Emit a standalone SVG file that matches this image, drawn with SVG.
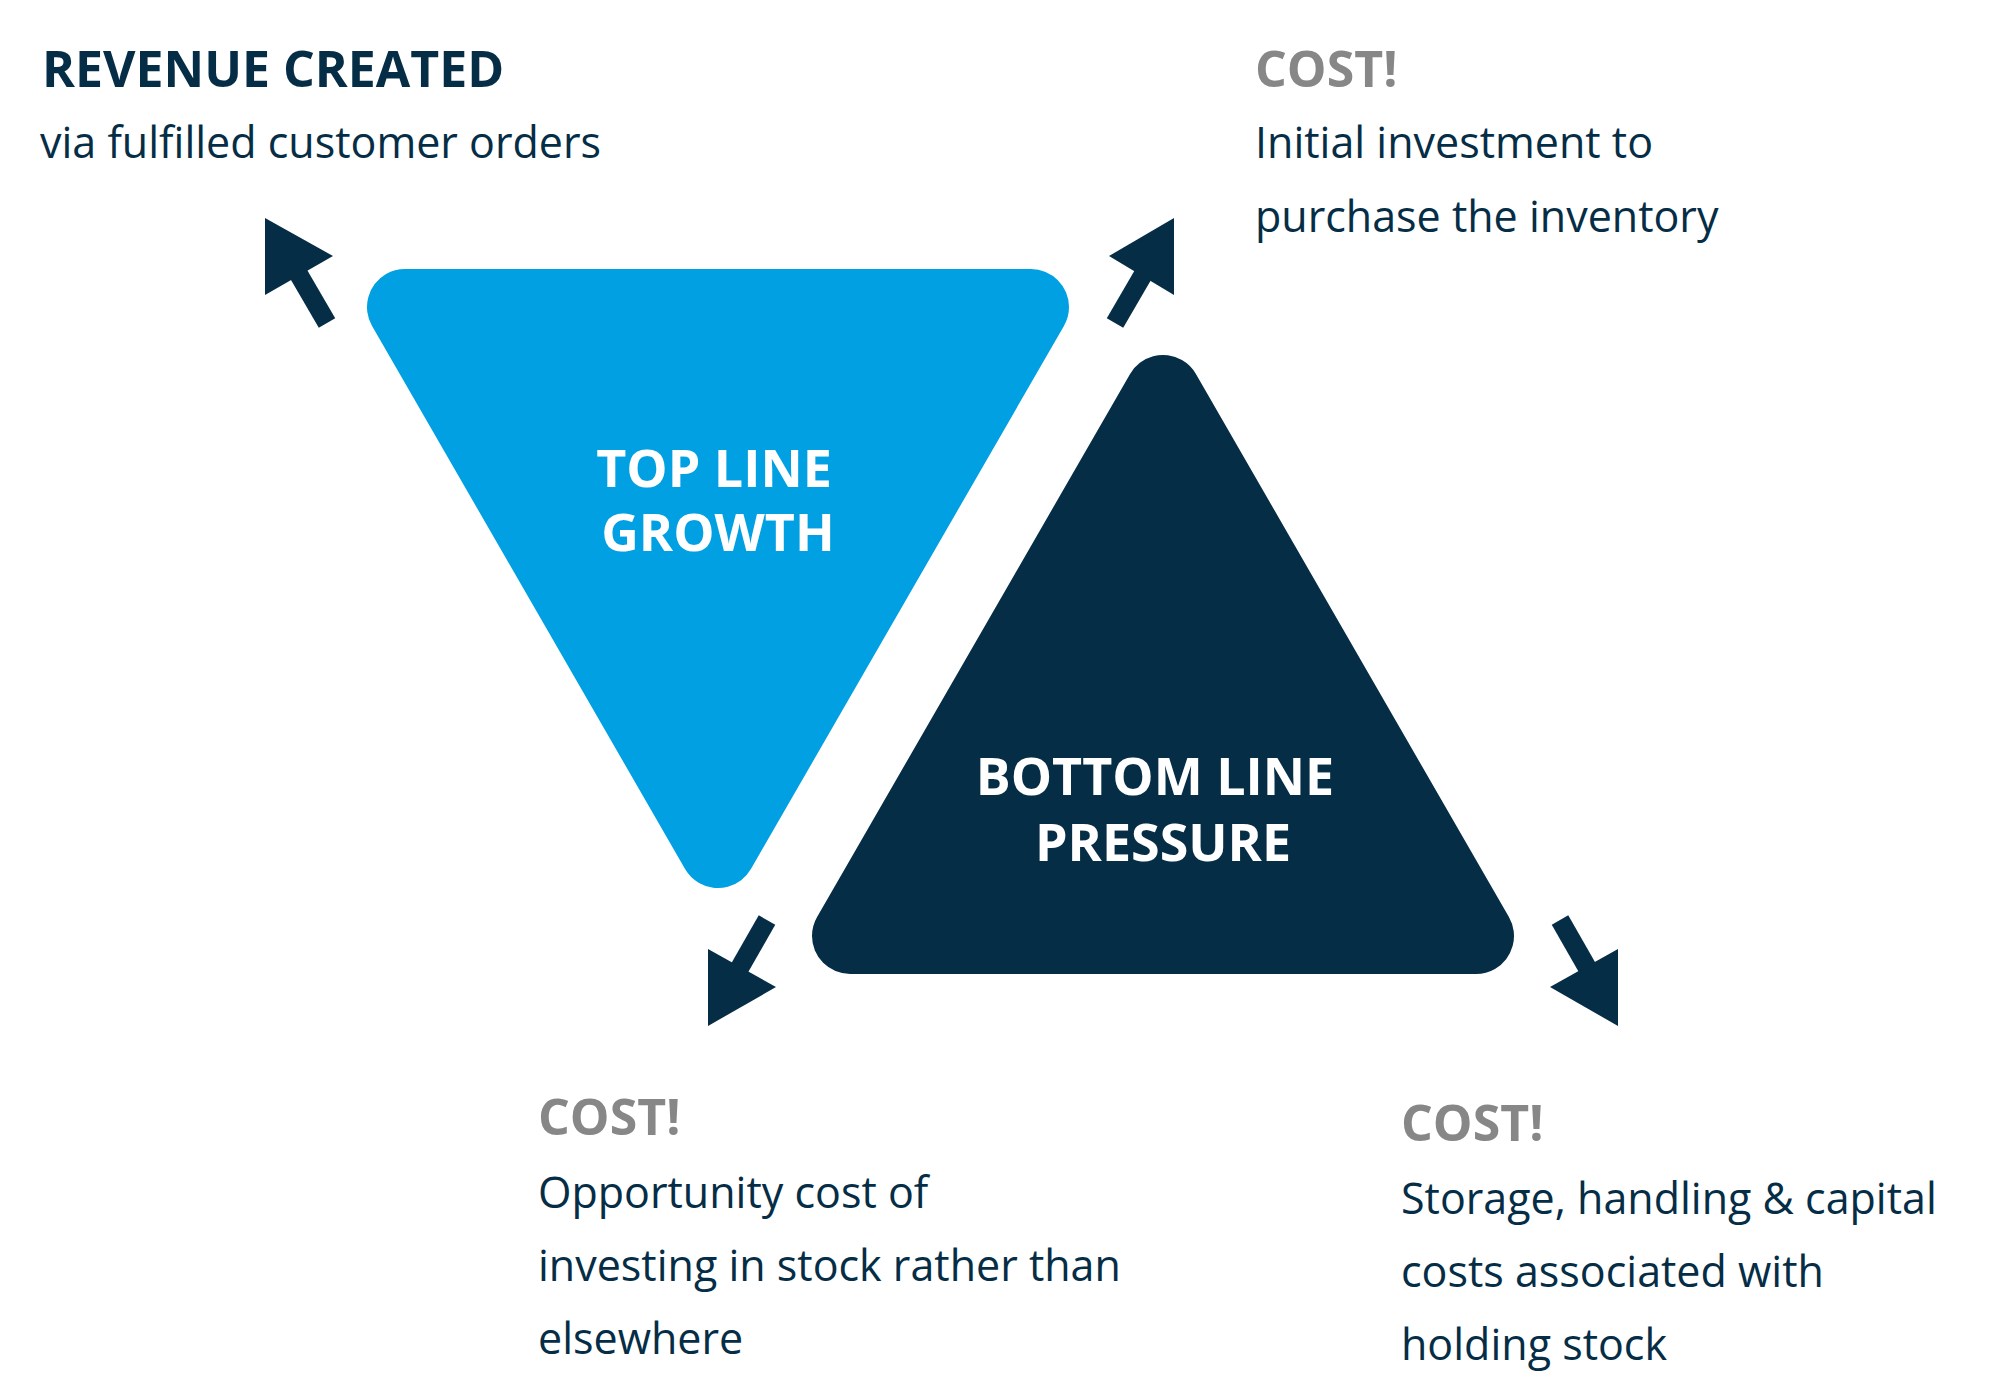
<svg xmlns="http://www.w3.org/2000/svg" width="2000" height="1390" viewBox="0 0 2000 1390">
<style>
.h{font-family:"Open Sans","Liberation Sans",sans-serif;font-weight:bold;font-size:50px}
.b{font-family:"Open Sans","Liberation Sans",sans-serif;font-size:43px;fill:#062D46}
.c{fill:#878787}
.w{fill:#fff;font-family:"Open Sans","Liberation Sans",sans-serif;font-weight:bold;font-size:52px;text-anchor:middle}
.s{stroke:#062D46;stroke-width:19;fill:none}
.a{fill:#062D46}
</style>
<rect width="2000" height="1390" fill="#fff"/>
<g id="top-line-growth">
<polygon points="405,307 1031,307 718,850" fill="#00A0E3" stroke="#00A0E3" stroke-width="76" stroke-linejoin="round"/>
<text class="w" x="714" y="487">TOP LINE</text>
<text class="w" x="718" y="551">GROWTH</text>
</g>
<g id="bottom-line-pressure">
<polygon points="1163,393 1476,936 850,936" fill="#062D46" stroke="#062D46" stroke-width="76" stroke-linejoin="round"/>
<text class="w" x="1155" y="795">BOTTOM LINE</text>
<text class="w" x="1163" y="861">PRESSURE</text>
</g>
<g id="connectors">
<line class="s" x1="327" y1="323" x2="295" y2="268"/><polygon class="a" points="265,218 265,295 333,256"/>
<line class="s" x1="1115" y1="323" x2="1147" y2="268"/><polygon class="a" points="1174,218 1109,256 1174,295"/>
<line class="s" x1="767" y1="920" x2="735" y2="976"/><polygon class="a" points="708,1026 708,949 776,987"/>
<line class="s" x1="1560" y1="920" x2="1592" y2="976"/><polygon class="a" points="1618,1026 1550,987 1618,949"/>
</g>
<g id="revenue">
<text class="h" x="42" y="87" fill="#062D46">REVENUE CREATED</text>
<text class="b" x="40" y="158">via fulfilled customer orders</text>
</g>
<g id="cost-top">
<text class="h c" x="1255" y="87">COST!</text>
<text class="b" x="1255" y="158">Initial investment to</text>
<text class="b" x="1255" y="232">purchase the inventory</text>
</g>
<g id="cost-bottom-left">
<text class="h c" x="538" y="1135">COST!</text>
<text class="b" x="538" y="1208">Opportunity cost of</text>
<text class="b" x="538" y="1281">investing in stock rather than</text>
<text class="b" x="538" y="1354">elsewhere</text>
</g>
<g id="cost-bottom-right">
<text class="h c" x="1401" y="1141">COST!</text>
<text class="b" x="1401" y="1214">Storage, handling &amp; capital</text>
<text class="b" x="1401" y="1287">costs associated with</text>
<text class="b" x="1401" y="1360">holding stock</text>
</g>
</svg>
